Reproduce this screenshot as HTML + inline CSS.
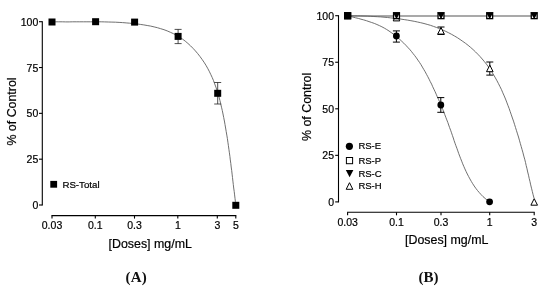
<!DOCTYPE html>
<html lang="en"><head><meta charset="utf-8"><title>Dose response</title>
<style>html,body{margin:0;padding:0;background:#fff}svg{display:block}</style></head>
<body><svg width="550" height="291" viewBox="0 0 550 291">
<rect width="550" height="291" fill="#fff"/>
<g stroke="#000" stroke-width="1.1" fill="none">
<path d="M42.3,21.20V205.50"/>
<path d="M39.00,205.00H42.3"/>
<path d="M39.00,159.18H42.3"/>
<path d="M39.00,113.35H42.3"/>
<path d="M39.00,67.53H42.3"/>
<path d="M39.00,21.70H42.3"/>
<path d="M51.5,215.6H236.3"/>
<path d="M52,215.6V218.6"/>
<path d="M95.3,215.6V218.6"/>
<path d="M134.5,215.6V218.6"/>
<path d="M177.8,215.6V218.6"/>
<path d="M217.3,215.6V218.6"/>
<path d="M235.8,215.6V218.6"/>
</g>
<path d="M52.0,21.7 L55.4,21.8 L58.8,21.8 L62.3,21.8 L65.7,21.9 L69.2,21.9 L72.7,21.8 L76.2,21.8 L79.8,21.8 L83.3,21.8 L86.9,21.8 L90.4,21.8 L94.0,21.8 L97.6,21.8 L101.2,21.8 L104.7,21.9 L108.3,22.0 L111.9,22.1 L115.5,22.2 L119.1,22.4 L122.6,22.6 L126.2,22.9 L129.7,23.2 L133.2,23.5 L136.8,23.9 L140.3,24.4 L143.8,24.9 L147.2,25.5 L150.7,26.1 L154.1,26.9 L157.4,27.7 L160.7,28.7 L164.0,29.7 L167.2,30.9 L170.4,32.3 L173.5,33.7 L176.5,35.3 L179.5,37.1 L182.4,39.0 L185.2,41.1 L187.9,43.4 L190.5,45.8 L193.0,48.3 L195.4,50.9 L197.7,53.6 L199.9,56.4 L202.0,59.3 L204.0,62.2 L205.9,65.2 L207.6,68.2 L209.2,71.2 L210.7,74.3 L212.2,77.5 L213.5,80.6 L214.7,83.9 L215.9,87.1 L217.0,90.4 L218.0,93.7 L219.0,97.0 L219.9,100.4 L220.7,103.8 L221.5,107.2 L222.3,110.6 L223.0,114.0 L223.7,117.5 L224.4,121.0 L225.0,124.5 L225.6,128.0 L226.2,131.5 L226.8,135.1 L227.4,138.6 L227.9,142.2 L228.4,145.7 L228.9,149.3 L229.4,152.8 L229.9,156.4 L230.3,159.9 L230.8,163.5 L231.2,167.0 L231.7,170.5 L232.1,174.1 L232.5,177.6 L232.9,181.1 L233.3,184.5 L233.7,188.0 L234.2,191.4 L234.6,194.9 L235.0,198.3 L235.4,201.6 L235.8,205.0" stroke="#606060" stroke-width="0.9" fill="none"/>
<path d="M174.60,29.40H181.60M174.60,43.60H181.60M178.10,29.40V43.60" stroke="#222" stroke-width="0.8" fill="none"/>
<path d="M214.20,82.50H221.20M214.20,104.00H221.20M217.70,82.50V104.00" stroke="#222" stroke-width="0.8" fill="none"/>
<rect x="48.50" y="18.50" width="7" height="7" fill="#000"/>
<rect x="92.10" y="18.20" width="7" height="7" fill="#000"/>
<rect x="131.10" y="18.60" width="7" height="7" fill="#000"/>
<rect x="174.60" y="32.90" width="7" height="7" fill="#000"/>
<rect x="214.20" y="89.80" width="7" height="7" fill="#000"/>
<rect x="232.30" y="201.80" width="7" height="7" fill="#000"/>
<rect x="50.30" y="180.90" width="6.8" height="6.8" fill="#000"/>
<g font-family="'Liberation Sans',Arial,sans-serif" fill="#000" stroke="#000" stroke-width="0.2">
<g font-size="10.5px" text-anchor="end">
<text x="38.3" y="209.10">0</text>
<text x="38.3" y="163.28">25</text>
<text x="38.3" y="117.45">50</text>
<text x="38.3" y="71.62">75</text>
<text x="38.3" y="25.80">100</text>
</g>
<g font-size="10.5px" text-anchor="middle">
<text x="52" y="228.7">0.03</text>
<text x="95.3" y="228.7">0.1</text>
<text x="134.5" y="228.7">0.3</text>
<text x="177.8" y="228.7">1</text>
<text x="217.3" y="228.7">3</text>
<text x="235.8" y="228.7">5</text>
</g>
<text x="62.4" y="187.6" font-size="9.7px">RS-Total</text>
<text x="150.2" y="247.5" font-size="12.4px" text-anchor="middle">[Doses] mg/mL</text>
<text transform="translate(15.6,111.5) rotate(-90)" font-size="12.4px" text-anchor="middle">% of Control</text>
</g>
<text x="136.3" y="282.3" font-family="'Liberation Serif',serif" font-weight="bold" font-size="15px" letter-spacing="0.3" text-anchor="middle" fill="#111">(A)</text>
<g stroke="#000" stroke-width="1.1" fill="none">
<path d="M338.5,15.20V202.40"/>
<path d="M335.20,201.90H338.5"/>
<path d="M335.20,155.35H338.5"/>
<path d="M335.20,108.80H338.5"/>
<path d="M335.20,62.25H338.5"/>
<path d="M335.20,15.70H338.5"/>
<path d="M347.1,212.3H534.7"/>
<path d="M347.6,212.3V215.3"/>
<path d="M396.5,212.3V215.3"/>
<path d="M441,212.3V215.3"/>
<path d="M489.7,212.3V215.3"/>
<path d="M534.2,212.3V215.3"/>
</g>
<path d="M347.6,16H534.2" stroke="#8c8c8c" stroke-width="1.7" fill="none"/>
<path d="M347.7,15.8 L350.3,16.4 L353.0,17.1 L355.6,17.8 L358.3,18.4 L361.0,19.2 L363.7,19.9 L366.4,20.7 L369.0,21.6 L371.7,22.5 L374.3,23.4 L376.9,24.5 L379.4,25.6 L381.9,26.8 L384.3,28.1 L386.7,29.5 L389.0,31.0 L391.3,32.6 L393.5,34.2 L395.6,35.9 L397.7,37.6 L399.8,39.4 L401.8,41.3 L403.8,43.2 L405.8,45.2 L407.6,47.2 L409.5,49.2 L411.3,51.3 L413.0,53.5 L414.7,55.6 L416.4,57.9 L417.9,60.1 L419.5,62.4 L421.0,64.7 L422.4,67.1 L423.8,69.5 L425.2,71.8 L426.5,74.3 L427.8,76.7 L429.1,79.2 L430.3,81.7 L431.6,84.1 L432.7,86.7 L433.9,89.2 L435.1,91.7 L436.2,94.2 L437.3,96.8 L438.5,99.3 L439.6,101.9 L440.6,104.4 L441.7,107.0 L442.8,109.5 L443.8,112.1 L444.8,114.7 L445.8,117.3 L446.8,119.9 L447.8,122.4 L448.7,125.0 L449.6,127.6 L450.6,130.2 L451.5,132.8 L452.4,135.4 L453.3,138.0 L454.1,140.6 L455.0,143.2 L455.9,145.7 L456.9,148.3 L457.8,150.9 L458.7,153.5 L459.7,156.1 L460.7,158.7 L461.7,161.2 L462.7,163.8 L463.8,166.4 L464.9,168.9 L466.1,171.5 L467.3,174.0 L468.6,176.5 L469.9,178.9 L471.3,181.4 L472.7,183.7 L474.2,186.0 L475.8,188.3 L477.5,190.5 L479.3,192.6 L481.1,194.6 L483.0,196.6 L485.1,198.4 L487.2,200.2 L489.5,201.8" stroke="#606060" stroke-width="0.9" fill="none"/>
<path d="M347.7,15.8 L350.9,15.8 L354.1,15.8 L357.4,15.8 L360.7,15.9 L364.0,16.0 L367.3,16.1 L370.6,16.3 L373.9,16.5 L377.3,16.7 L380.7,16.9 L384.0,17.2 L387.4,17.5 L390.8,17.9 L394.1,18.2 L397.5,18.7 L400.9,19.1 L404.2,19.6 L407.5,20.1 L410.9,20.7 L414.2,21.3 L417.5,22.0 L420.7,22.7 L424.0,23.5 L427.2,24.4 L430.4,25.3 L433.5,26.4 L436.6,27.5 L439.7,28.7 L442.8,30.0 L445.8,31.4 L448.7,32.8 L451.7,34.4 L454.5,36.0 L457.4,37.7 L460.1,39.5 L462.8,41.4 L465.5,43.3 L468.1,45.3 L470.6,47.4 L473.1,49.6 L475.5,51.9 L477.8,54.2 L480.1,56.6 L482.2,59.0 L484.3,61.5 L486.4,64.1 L488.3,66.7 L490.2,69.5 L492.0,72.2 L493.7,75.0 L495.4,77.9 L497.0,80.8 L498.5,83.7 L500.0,86.7 L501.5,89.7 L502.8,92.8 L504.2,95.9 L505.5,99.0 L506.7,102.1 L507.9,105.3 L509.1,108.4 L510.2,111.6 L511.3,114.8 L512.4,118.0 L513.5,121.1 L514.5,124.3 L515.5,127.5 L516.5,130.7 L517.5,133.9 L518.5,137.0 L519.4,140.2 L520.3,143.4 L521.2,146.5 L522.1,149.7 L523.0,152.9 L523.8,156.1 L524.7,159.2 L525.5,162.4 L526.2,165.6 L527.0,168.8 L527.7,172.0 L528.5,175.2 L529.2,178.4 L530.0,181.7 L530.7,184.9 L531.5,188.2 L532.3,191.4 L533.1,194.7 L534.0,198.0" stroke="#606060" stroke-width="0.9" fill="none"/>
<path d="M392.90,30.90H399.90M392.90,42.10H399.90M396.40,30.90V42.10" stroke="#000" stroke-width="1" fill="none"/>
<path d="M437.30,97.60H444.30M437.30,112.30H444.30M440.80,97.60V112.30" stroke="#000" stroke-width="1" fill="none"/>
<path d="M437.50,27.00H444.50M437.50,34.50H444.50M441.00,27.00V34.50" stroke="#000" stroke-width="1" fill="none"/>
<path d="M486.30,62.00H493.30M486.30,75.10H493.30M489.80,62.00V75.10" stroke="#000" stroke-width="1" fill="none"/>
<path d="M393.20,20.90L399.80,20.90L396.50,14.30Z" fill="#fff" stroke="#000" stroke-width="1" stroke-linejoin="miter"/>
<path d="M437.70,34.10L444.30,34.10L441.00,27.50Z" fill="#fff" stroke="#000" stroke-width="1" stroke-linejoin="miter"/>
<path d="M486.50,71.70L493.10,71.70L489.80,65.10Z" fill="#fff" stroke="#000" stroke-width="1" stroke-linejoin="miter"/>
<path d="M530.90,205.20L537.50,205.20L534.20,198.60Z" fill="#fff" stroke="#000" stroke-width="1" stroke-linejoin="miter"/>
<rect x="344.65" y="12.75" width="5.9" height="5.9" fill="#fff" stroke="#000" stroke-width="1.3"/>
<path d="M344.00,12.40L351.20,12.40L347.60,19.30Z" fill="#000"/>
<rect x="393.55" y="12.75" width="5.9" height="5.9" fill="#fff" stroke="#000" stroke-width="1.3"/>
<path d="M392.90,12.40L400.10,12.40L396.50,19.30Z" fill="#000"/>
<rect x="438.05" y="12.75" width="5.9" height="5.9" fill="#fff" stroke="#000" stroke-width="1.3"/>
<path d="M437.40,12.40L444.60,12.40L441.00,19.30Z" fill="#000"/>
<rect x="486.75" y="12.75" width="5.9" height="5.9" fill="#fff" stroke="#000" stroke-width="1.3"/>
<path d="M486.10,12.40L493.30,12.40L489.70,19.30Z" fill="#000"/>
<rect x="531.25" y="12.75" width="5.9" height="5.9" fill="#fff" stroke="#000" stroke-width="1.3"/>
<path d="M530.60,12.40L537.80,12.40L534.20,19.30Z" fill="#000"/>
<rect x="344.10" y="12.20" width="7.2" height="7.2" fill="#000"/>
<circle cx="396.4" cy="36" r="3.4" fill="#000"/>
<circle cx="440.8" cy="105" r="3.4" fill="#000"/>
<circle cx="489.6" cy="201.8" r="3.4" fill="#000"/>
<circle cx="349.4" cy="146.3" r="3.6" fill="#000"/>
<rect x="346.40" y="157.50" width="6.2" height="6.2" fill="#fff" stroke="#000" stroke-width="1"/>
<path d="M345.80,170.00L353.40,170.00L349.60,177.30Z" fill="#000"/>
<path d="M346.20,189.30L352.80,189.30L349.50,182.70Z" fill="#fff" stroke="#000" stroke-width="1" stroke-linejoin="miter"/>
<g font-family="'Liberation Sans',Arial,sans-serif" fill="#000" stroke="#000" stroke-width="0.2">
<g font-size="9.5px">
<text x="358.4" y="149.3">RS-E</text>
<text x="358.4" y="163.8">RS-P</text>
<text x="358.4" y="176.8">RS-C</text>
<text x="358.4" y="188.5">RS-H</text>
</g>
<g font-size="10.5px" text-anchor="end">
<text x="334" y="205.70">0</text>
<text x="334" y="159.15">25</text>
<text x="334" y="112.60">50</text>
<text x="334" y="66.05">75</text>
<text x="334" y="19.50">100</text>
</g>
<g font-size="10.5px" text-anchor="middle">
<text x="347.6" y="225.6">0.03</text>
<text x="396.5" y="225.6">0.1</text>
<text x="441" y="225.6">0.3</text>
<text x="489.7" y="225.6">1</text>
<text x="534.2" y="225.6">3</text>
</g>
<text x="446.7" y="243.8" font-size="12.4px" text-anchor="middle">[Doses] mg/mL</text>
<text transform="translate(311.1,106.9) rotate(-90)" font-size="12.4px" text-anchor="middle">% of Control</text>
</g>
<text x="428.4" y="282.3" font-family="'Liberation Serif',serif" font-weight="bold" font-size="15px" text-anchor="middle" fill="#111">(B)</text>
</svg></body></html>
